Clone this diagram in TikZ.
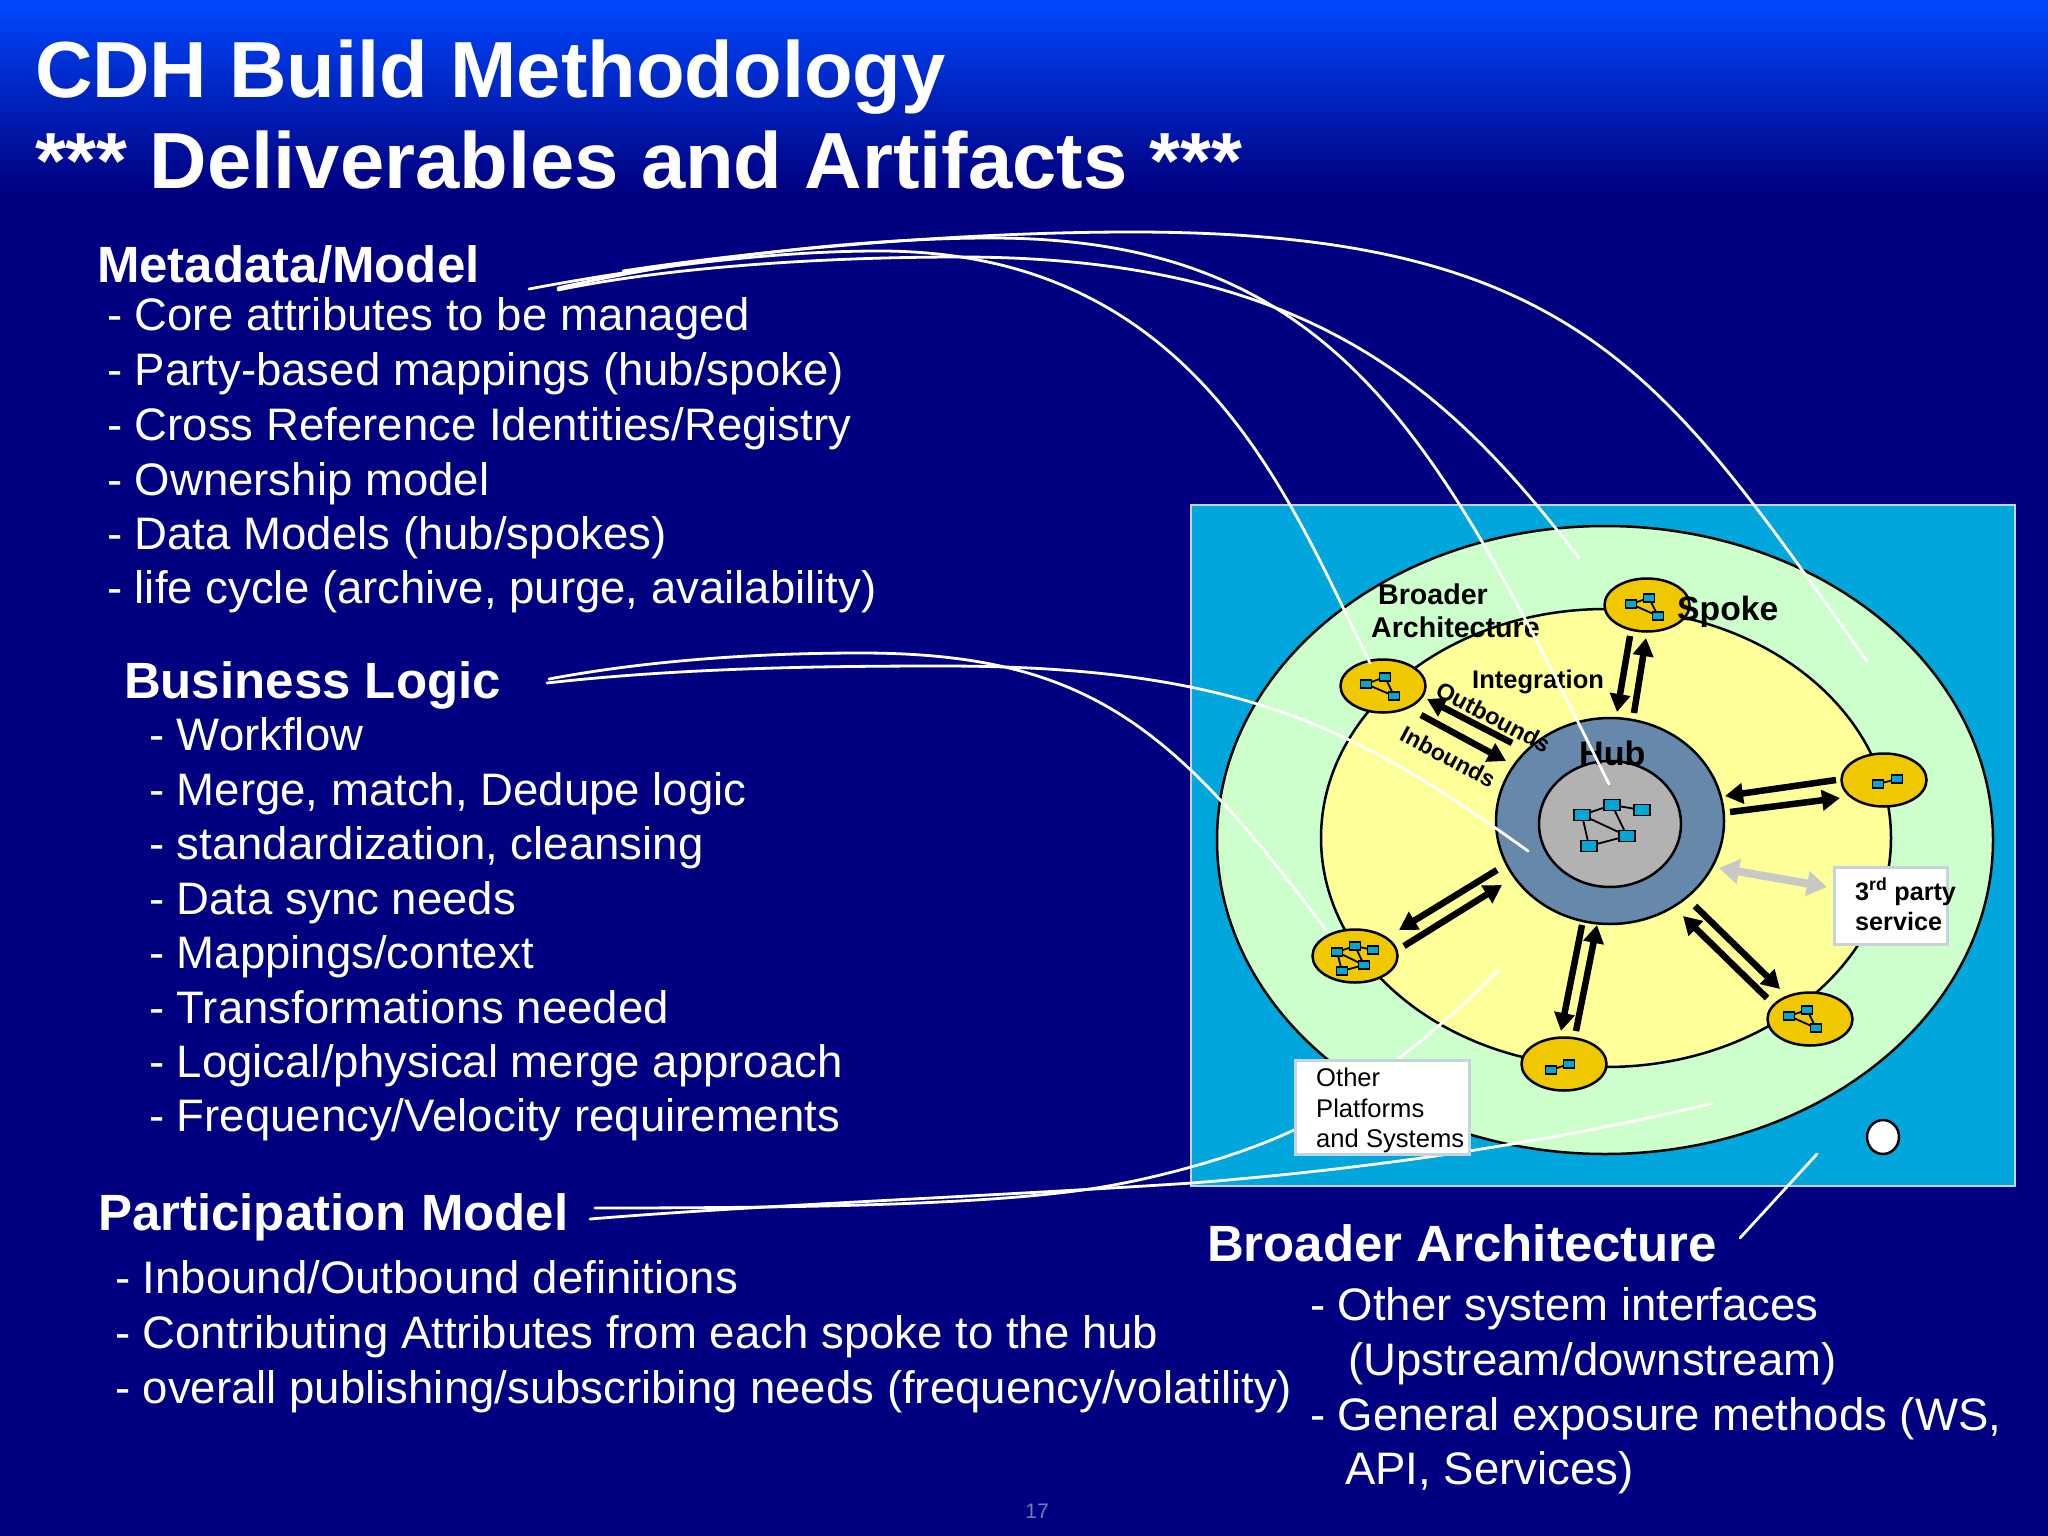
\documentclass[tikz,border=0pt]{standalone}
\usepackage{fontspec}
\setmainfont{Liberation Sans}
\usetikzlibrary{arrows.meta,shapes.geometric}
\definecolor{navybg}{HTML}{000080}
\definecolor{topblue}{HTML}{0048FF}
\definecolor{panelblue}{HTML}{00A6DC}
\definecolor{panelline}{HTML}{C4D4DC}
\definecolor{ringgreen}{HTML}{CCFFCC}
\definecolor{ringyellow}{HTML}{FFFF99}
\definecolor{hubblue}{HTML}{6688AA}
\definecolor{hubgrey}{HTML}{B2B2B2}
\definecolor{spokegold}{HTML}{F0C800}
\definecolor{iconcyan}{HTML}{00A8D8}
\definecolor{pagenum}{HTML}{7080A8}
\definecolor{softgrey}{HTML}{C8C8C8}
\newcommand{\fsz}[1]{\fontsize{#1}{#1}\selectfont}
\tikzset{
  txt/.style={anchor=base west,inner sep=0pt,outer sep=0pt,text=white},
  titletext/.style={txt,font=\fsz{79.6}\bfseries},
  headtext/.style={txt,font=\fsz{51}\bfseries},
  bodytext/.style={txt,font=\fsz{45.55}},
  disktext/.style={anchor=base west,inner sep=0pt,text=black,font=\fsz{#1}\bfseries},
  boxtext/.style={anchor=base west,inner sep=0pt,text=black,font=\fsz{25.6}},
  ring/.style={ellipse,draw=black,line width=2.5pt,inner sep=0pt,minimum width=2*#1},
  spokeoval/.style={ellipse,draw=black,line width=2.5pt,fill=spokegold,minimum width=85pt,minimum height=53pt,inner sep=0pt},
  iconbox/.style={rectangle,draw=black,line width=1.8pt,fill=iconcyan,minimum width=11pt,minimum height=8pt,inner sep=0pt},
  hubbox/.style={iconbox,minimum width=16pt,minimum height=11pt},
  iconline/.style={draw=black,line width=1.8pt},
  flow/.style={draw=black,line width=6.5pt,-{Triangle[width=20pt,length=18pt]}},
  greyflow/.style={draw=softgrey,line width=8pt,{Triangle[width=24pt,length=20pt]}-{Triangle[width=24pt,length=20pt]}},
  callout/.style={draw=white,line width=2.8pt,line cap=round},
  labelbox/.style={rectangle,draw=panelline,line width=3pt,fill=white,inner sep=0pt},
}
\begin{document}
\begin{tikzpicture}[x=1pt,y=-1pt]
\useasboundingbox (0,0) rectangle (2048,1536);
\fill[navybg] (0,0) rectangle (2048,1536);
\shade[top color=topblue,bottom color=navybg] (0,0) rectangle (2048,190);

% panel
\draw[panelline,fill=panelblue,line width=2.5pt] (1191,505) rectangle (2015,1186);
\node[ring=388pt,fill=ringgreen,minimum height=628pt] (outer) at (1605,840) {};
\node[ring=285pt,fill=ringyellow,minimum height=458pt] (integ) at (1606,838) {};
\node[ring=114pt,fill=hubblue,minimum height=206pt] (hub) at (1610,821) {};
\node[ring=71pt,fill=hubgrey,minimum height=126pt] (core) at (1610,824) {};
\node[ellipse,draw=black,line width=2.5pt,fill=white,minimum width=32pt,minimum height=34pt,inner sep=0pt] (dot) at (1883,1137) {};

% spokes
\node[spokeoval] (sTop) at (1647,605) {};
\node[spokeoval] (sUL) at (1383,686) {};
\node[spokeoval] (sR) at (1884,780) {};
\node[spokeoval] (sLL) at (1355,956) {};
\node[spokeoval] (sB) at (1564,1064) {};
\node[spokeoval] (sLR) at (1810,1019) {};

% icons: top spoke
\coordinate (ta) at (1631,604); \coordinate (tb) at (1649,598); \coordinate (tc) at (1658,616);
\draw[iconline] (ta)--(tb) (ta)--(tc) (tb)--(tc);
\node[iconbox] at (ta) {}; \node[iconbox] at (tb) {}; \node[iconbox] at (tc) {};
% upper left spoke
\coordinate (ua) at (1366,684); \coordinate (ub) at (1385,677); \coordinate (uc) at (1394,696);
\draw[iconline] (ua)--(ub) (ua)--(uc) (ub)--(uc);
\node[iconbox] at (ua) {}; \node[iconbox] at (ub) {}; \node[iconbox] at (uc) {};
% right spoke
\coordinate (ra) at (1878,784); \coordinate (rb) at (1897,779);
\draw[iconline] (ra)--(rb);
\node[iconbox] at (ra) {}; \node[iconbox] at (rb) {};
% lower right spoke
\coordinate (la) at (1789,1016); \coordinate (lb) at (1807,1010); \coordinate (lc) at (1816,1028);
\draw[iconline] (la)--(lb) (la)--(lc) (lb)--(lc);
\node[iconbox] at (la) {}; \node[iconbox] at (lb) {}; \node[iconbox] at (lc) {};
% bottom spoke
\coordinate (ba) at (1551,1070); \coordinate (bb) at (1569,1064);
\draw[iconline] (ba)--(bb);
\node[iconbox] at (ba) {}; \node[iconbox] at (bb) {};
% lower left spoke
\coordinate (na) at (1337,952); \coordinate (nb) at (1355,946); \coordinate (nc) at (1373,950);
\coordinate (nd) at (1364,965); \coordinate (ne) at (1342,971);
\draw[iconline] (na)--(nb) (nb)--(nc) (na)--(nd) (nb)--(nd) (na)--(ne) (ne)--(nd);
\node[iconbox] at (na) {}; \node[iconbox] at (nb) {}; \node[iconbox] at (nc) {}; \node[iconbox] at (nd) {}; \node[iconbox] at (ne) {};
% hub
\coordinate (ha) at (1582,815); \coordinate (hb) at (1612,805); \coordinate (hc) at (1642,810);
\coordinate (hd) at (1627,836); \coordinate (he) at (1589,846);
\draw[iconline] (ha)--(hb) (hb)--(hc) (ha)--(hd) (hb)--(hd) (ha)--(he) (he)--(hd);
\node[hubbox] at (ha) {}; \node[hubbox] at (hb) {}; \node[hubbox] at (hc) {}; \node[hubbox] at (hd) {}; \node[hubbox] at (he) {};

% flow arrow ends
\coordinate (f1a) at (1630,636); \coordinate (f1b) at (1617,712);
\coordinate (f2a) at (1634,713); \coordinate (f2b) at (1646,638);
\coordinate (f3a) at (1512,743); \coordinate (f3b) at (1427,699);
\coordinate (f4a) at (1421,715); \coordinate (f4b) at (1506,761);
\coordinate (f5a) at (1836,780); \coordinate (f5b) at (1725,796);
\coordinate (f6a) at (1730,812); \coordinate (f6b) at (1840,798);
\coordinate (f7a) at (1719,868); \coordinate (f7b) at (1827,887);
\coordinate (f8a) at (1695,906); \coordinate (f8b) at (1780,989);
\coordinate (f9a) at (1767,998); \coordinate (f9b) at (1683,916);
\coordinate (f10a) at (1582,925); \coordinate (f10b) at (1561,1031);
\coordinate (f11a) at (1576,1031); \coordinate (f11b) at (1597,925);
\coordinate (f12a) at (1497,870); \coordinate (f12b) at (1399,930);
\coordinate (f13a) at (1404,946); \coordinate (f13b) at (1502,885);
\draw[flow] (f1a)--(f1b);
\draw[flow] (f2a)--(f2b);
\draw[flow] (f3a)--(f3b);
\draw[flow] (f4a)--(f4b);
\draw[flow] (f5a)--(f5b);
\draw[flow] (f6a)--(f6b);
\draw[greyflow] (f7a)--(f7b);
\draw[flow] (f8a)--(f8b);
\draw[flow] (f9a)--(f9b);
\draw[flow] (f10a)--(f10b);
\draw[flow] (f11a)--(f11b);
\draw[flow] (f12a)--(f12b);
\draw[flow] (f13a)--(f13b);

% diagram labels
\node[disktext=28.6] (lb1) at (1378,604) {Broader};
\node[disktext=28.6] (lb2) at (1371,637) {Architecture};
\node[disktext=33.7] (lspoke) at (1677,620) {Spoke};
\node[disktext=34] (lhub) at (1579,765) {Hub};
\node[disktext=25.5] (lint) at (1472,688) {Integration};
\node[anchor=center,inner sep=0pt,font=\fsz{23.5}\bfseries,rotate=-28] (lout) at (1494,717) {Outbounds};
\node[anchor=center,inner sep=0pt,font=\fsz{23}\bfseries,rotate=-28] (lin) at (1448,757) {Inbounds};

% callout curve ends
\coordinate (mA) at (529,289); \coordinate (mB) at (558,290);
\coordinate (mC) at (558,288); \coordinate (mD) at (623,271);
\coordinate (eA) at (1370,663); \coordinate (eB) at (1609,784);
\coordinate (eC) at (1579,558); \coordinate (eD) at (1867,661);
\coordinate (bA) at (547,683); \coordinate (bB) at (549,679);
\coordinate (eE) at (1528,851); \coordinate (eF) at (1326,930);
\coordinate (pA) at (595,1208); \coordinate (pB) at (590,1219);
\coordinate (eG) at (1499,970); \coordinate (eH) at (1713,1103);
\coordinate (qA) at (1740,1238); \coordinate (eI) at (1817,1154);

\draw[callout] (mA) .. controls (640,268) and (770,251) .. (879,251) .. controls (1199,251) and (1290,503) .. (eA);
\draw[callout] (mC) .. controls (690,258) and (860,238) .. (991,238) .. controls (1341,238) and (1439,444) .. (eB);
\draw[callout] (mB) .. controls (680,265) and (840,257) .. (960,257) .. controls (1310,257) and (1449,389) .. (eC);
\draw[callout] (mD) .. controls (760,250) and (960,232) .. (1132,232) .. controls (1582,232) and (1667,381) .. (eD);
\draw[callout] (bA) .. controls (680,668) and (820,666) .. (942,666) .. controls (1242,666) and (1358,729) .. (eE);
\draw[callout] (bB) .. controls (650,660) and (760,653) .. (861,653) .. controls (1091,653) and (1176,730) .. (eF);
\draw[callout] (pA) .. controls (800,1208) and (980,1205) .. (1090,1189) .. controls (1150,1180) and (1235,1158) .. (1294,1130) .. controls (1340,1105) and (1430,1040) .. (eG);
\draw[callout] (pB) .. controls (760,1205) and (960,1198) .. (1192,1183) .. controls (1330,1172) and (1520,1150) .. (eH);
\draw[callout] (qA) -- (eI);

% boxes over the curves
\node[labelbox,minimum width=174pt,minimum height=94pt] (otherbox) at (1382,1107) {};
\node[boxtext] (o1) at (1316,1086) {Other};
\node[boxtext] (o2) at (1316,1117) {Platforms};
\node[boxtext] (o3) at (1316,1147) {and Systems};
\node[labelbox,minimum width=113pt,minimum height=77pt] (thirdbox) at (1890.5,905.5) {};
\node[disktext=25.2] (th1) at (1855,900) {3\textsuperscript{rd} party};
\node[disktext=25.2] (th2) at (1855,930) {service};

% slide text
\node[titletext] (title1) at (35,98) {CDH Build Methodology};
\node[titletext] (title2) at (35,189) {*** Deliverables and Artifacts ***};

\node[headtext] (h1) at (97,282) {Metadata/Model};
\node[bodytext] (m1) at (107,330) {- Core attributes to be managed};
\node[bodytext] (m2) at (107,385) {- Party-based mappings (hub/spoke)};
\node[bodytext] (m3) at (107,440) {- Cross Reference Identities/Registry};
\node[bodytext] (m4) at (107,495) {- Ownership model};
\node[bodytext] (m5) at (107,549) {- Data Models (hub/spokes)};
\node[bodytext] (m6) at (107,603) {- life cycle (archive, purge, availability)};

\node[headtext] (h2) at (124,698) {Business Logic};
\node[bodytext] (b1) at (149,750) {- Workflow};
\node[bodytext] (b2) at (149,805) {- Merge, match, Dedupe logic};
\node[bodytext] (b3) at (149,859) {- standardization, cleansing};
\node[bodytext] (b4) at (149,914) {- Data sync needs};
\node[bodytext] (b5) at (149,968) {- Mappings/context};
\node[bodytext] (b6) at (149,1023) {- Transformations needed};
\node[bodytext] (b7) at (149,1077) {- Logical/physical merge approach};
\node[bodytext] (b8) at (149,1131) {- Frequency/Velocity requirements};

\node[headtext] (h3) at (98,1230) {Participation Model};
\node[bodytext] (p1) at (115,1293) {- Inbound/Outbound definitions};
\node[bodytext] (p2) at (115,1348) {- Contributing Attributes from each spoke to the hub};
\node[bodytext] (p3) at (115,1403) {- overall publishing/subscribing needs (frequency/volatility)};

\node[headtext] (h4) at (1207,1261) {Broader Architecture};
\node[bodytext] (a1) at (1310,1320) {- Other system interfaces};
\node[bodytext] (a2) at (1348,1375) {(Upstream/downstream)};
\node[bodytext] (a3) at (1310,1430) {- General exposure methods (WS,};
\node[bodytext] (a4) at (1345,1484) {API, Services)};

\node[anchor=base,inner sep=0pt,text=pagenum,font=\fsz{21}] (pg) at (1037,1518) {17};
\end{tikzpicture}
\end{document}
